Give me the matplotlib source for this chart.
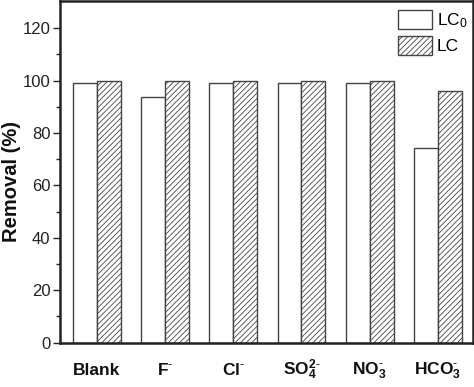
import matplotlib
matplotlib.use("Agg")
import matplotlib.pyplot as plt
import numpy as np

plt.rcParams['font.family'] = ['Liberation Sans', 'DejaVu Sans']
plt.rcParams['mathtext.fontset'] = 'custom'
plt.rcParams['mathtext.rm'] = 'Liberation Sans'
plt.rcParams['mathtext.bf'] = 'Liberation Sans:bold'
plt.rcParams['mathtext.it'] = 'Liberation Sans:italic'
plt.rcParams['hatch.color'] = '#6a6a6a'
plt.rcParams['hatch.linewidth'] = 0.6

categories = ['Blank', r'F$^{\mathbf{\text{-}}}$', r'Cl$^{\mathbf{\text{-}}}$',
              r'SO$_{\mathbf{4}}^{\mathbf{2\text{-}}}$',
              r'NO$_{\mathbf{3}}^{\mathbf{\text{-}}}$', r'HCO$_{\mathbf{3}}^{\mathbf{\text{-}}}$']
lc0 = [99.0, 93.6, 99.0, 99.0, 99.0, 74.3]
lc = [100.0, 100.0, 99.8, 100.0, 100.0, 96.0]

fig = plt.figure(figsize=(4.74, 3.87), dpi=100)
ax = fig.add_axes([60/474, 1-342.7/387, (472.7-60)/474, 342.7/387 - 0.002])

x = np.arange(len(categories))
w = 0.35
ax.bar(x - w/2, lc0, w, facecolor='white', edgecolor='#444444', linewidth=1.0, label=r'LC$_\mathrm{0}$')
ax.bar(x + w/2, lc, w, facecolor='white', edgecolor='#444444', linewidth=1.0, hatch='//////', label='LC')

ax.set_xlim(-0.54, 5.51)
ax.set_ylim(0, 130.5)
ax.set_yticks([0, 20, 40, 60, 80, 100, 120])
ax.set_yticks(np.arange(10, 130, 20), minor=True)
ax.set_xticks(x)
ax.set_xticklabels([])
ax.tick_params(axis='x', length=0)
for xi, lab in zip(x, categories):
    ax.text(xi, -0.094, lab, transform=ax.get_xaxis_transform(), ha='center', va='baseline',
            fontsize=12.5, fontweight='bold', color='#111111')
ax.tick_params(axis='y', which='major', length=5, width=1, labelsize=12, direction='out',
               colors='#222222', pad=2)
ax.tick_params(axis='y', which='minor', length=3, width=1, direction='out', colors='#222222')
for s in ax.spines.values():
    s.set_linewidth(1.8)
    s.set_color('#222222')
fig.text(11.5/474, 1-181/387, 'Removal (%)', rotation=90, ha='center', va='center',
         fontsize=14.5, fontweight='bold', color='#111111')

ax.legend(loc='upper left', bbox_to_anchor=((398-60)/412.7, 1-9/342.7), frameon=False,
          fontsize=12.5, handlelength=1.95, handleheight=1.3,
          borderaxespad=0, handletextpad=0.3, labelspacing=0.35, borderpad=0)

fig.savefig('out.png', dpi=100)
